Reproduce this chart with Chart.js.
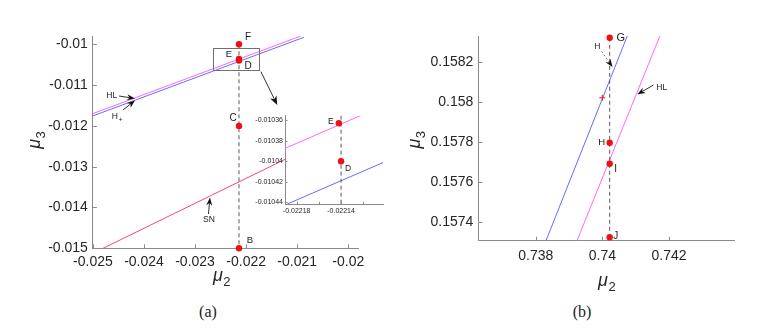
<!DOCTYPE html>
<html>
<head>
<meta charset="utf-8">
<script src="https://cdn.jsdelivr.net/npm/chart.js@4.4.1/dist/chart.umd.min.js"></script>
<style>
  html, body { margin: 0; padding: 0; background: #fff; }
  #fig { position: relative; width: 763px; height: 332px; overflow: hidden; background: #fff; }
  #fig canvas { position: absolute; }
  .cap { position: absolute; font: 16px "Liberation Serif", "DejaVu Serif", serif; color: #1a1a1a;
         transform: translate(-50%, -50%); white-space: nowrap; }
</style>
</head>
<body>
<div id="fig">
  <canvas id="left" width="390" height="300" style="left:0;top:0;width:390px;height:300px"></canvas>
  <canvas id="right" width="373" height="300" style="left:390px;top:0;width:373px;height:300px"></canvas>
  <canvas id="inset" width="150" height="120" style="left:240px;top:100px;width:150px;height:120px"></canvas>
  <div class="cap" style="left:208px;top:312px">(a)</div>
  <div class="cap" style="left:582px;top:312px">(b)</div>
</div>
<script>
// ---------- panel (a): bifurcation curves near mu2 = -0.0221 ----------
const aXTicks = [-0.025, -0.024, -0.023, -0.022, -0.021, -0.02];
const aXTickLabels = ['-0.025', '-0.024', '-0.023', '-0.022', '-0.021', '-0.02'];
const aYTicks = [-0.015, -0.014, -0.013, -0.012, -0.011, -0.01];
const aYTickLabels = ['-0.015', '-0.014', '-0.013', '-0.012', '-0.011', '-0.01'];

const aHLMu2 = [-0.025, -0.020934];
const aHLMu3 = [-0.011699, -0.0098];
const aHPlusMu2 = [-0.025, -0.02087];
const aHPlusMu3 = [-0.011756, -0.00983];
const aSNMu2 = [-0.024801, -0.02122];
const aSNMu3 = [-0.015, -0.012809];

const aPointNames = ['F', 'E', 'D', 'C', 'B'];
const aPointMu2 = [-0.02214, -0.02214, -0.02214, -0.02214, -0.02214];
const aPointMu3 = [-0.01, -0.010363, -0.0104, -0.012, -0.015];

// ---------- magnified window around E and D ----------
const zXTicks = [-0.02218, -0.02216, -0.02214, -0.02212];
const zXTickLabels = ['-0.02218', '', '-0.02214', ''];
const zYTicks = [-0.01044, -0.01042, -0.0104, -0.01038, -0.01036];
const zYTickLabels = ['-0.01044', '-0.01042', '-0.0104', '-0.01038', '-0.01036'];

const zHLMu2 = [-0.0221905, -0.0221214];
const zHLMu3 = [-0.0103875, -0.0103552];
const zHPlusMu2 = [-0.022189, -0.0221022];
const zHPlusMu3 = [-0.0104418, -0.0104013];
const zPointNames = ['E', 'D'];
const zPointMu2 = [-0.022142, -0.02214];
const zPointMu3 = [-0.0103632, -0.0104];

// ---------- panel (b): curves near mu2 = 0.74 ----------
const bXTicks = [0.738, 0.74, 0.742];
const bXTickLabels = ['0.738', '0.74', '0.742'];
const bYTicks = [0.1574, 0.1576, 0.1578, 0.158, 0.1582];
const bYTickLabels = ['0.1574', '0.1576', '0.1578', '0.158', '0.1582'];

const bHMu2 = [0.738309, 0.74075];
const bHMu3 = [0.157305, 0.15833];
const bHLMu2 = [0.739238, 0.74173];
const bHLMu3 = [0.157305, 0.15833];
const bPointNames = ['G', 'H', 'I', 'J'];
const bPointMu2 = [0.74022, 0.74022, 0.74022, 0.74022];
const bPointMu3 = [0.15832, 0.157795, 0.15769, 0.157322];
const bCrossMu2 = [0.74];
const bCrossMu3 = [0.15802];

// ---------- styling ----------
const AXIS = '#8a8a8a';
const TEXT = '#262626';
const PINK = '#ff66ff';
const BLUE = '#6a6aff';
const CRIMSON = '#ff4477';
const DOT = '#f01010';
const DASH = '#5a5a5a';
const SANS = '"Liberation Sans", Arial, Helvetica, sans-serif';

const pts = (xs, ys) => xs.map((x, i) => ({ x, y: ys[i] }));

function curve(xs, ys, color, dash) {
  return { data: pts(xs, ys), showLine: true, borderColor: color, borderWidth: 1,
           borderDash: dash || [], pointRadius: 0, pointHoverRadius: 0, fill: false };
}
function dots(xs, ys, r) {
  return { data: pts(xs, ys), showLine: false, pointRadius: r, pointHoverRadius: r,
           pointBackgroundColor: DOT, pointBorderWidth: 0, clip: false };
}

function axis(min, max, vals, labels, o) {
  return {
    type: 'linear', min, max,
    afterBuildTicks: s => { s.ticks = vals.map(v => ({ value: v })); },
    afterFit: s => { if (o.width != null) s.width = o.width; if (o.height != null) s.height = o.height; },
    grid: { display: false, drawTicks: false },
    border: { display: true, color: AXIS, width: 1 },
    ticks: { color: TEXT, font: { family: SANS, size: o.font }, padding: o.pad,
             autoSkip: false, maxRotation: 0, minRotation: 0,
             callback: (v, i) => labels[i] ?? '' }
  };
}

function arrow(ctx, x1, y1, x2, y2, o) {
  const L = o.len || 8, W = o.wid || 6;
  const a = Math.atan2(y2 - y1, x2 - x1), ux = Math.cos(a), uy = Math.sin(a);
  const nx = x2 - ux * L * 0.7, ny = y2 - uy * L * 0.7;
  const bx = x2 - ux * L, by = y2 - uy * L, px = -uy, py = ux;
  ctx.save();
  ctx.strokeStyle = o.color || '#333'; ctx.lineWidth = 1;
  ctx.setLineDash(o.dash || []);
  ctx.beginPath(); ctx.moveTo(x1, y1); ctx.lineTo(nx, ny); ctx.stroke();
  ctx.setLineDash([]);
  ctx.fillStyle = '#111';
  ctx.beginPath();
  ctx.moveTo(x2, y2);
  ctx.lineTo(bx + px * W / 2, by + py * W / 2);
  ctx.lineTo(nx, ny);
  ctx.lineTo(bx - px * W / 2, by - py * W / 2);
  ctx.closePath(); ctx.fill();
  ctx.restore();
}

// italic mu with a numeric subscript
function muLabel(ctx, sub, cx, cy, rot) {
  ctx.save();
  ctx.translate(cx, cy);
  if (rot) ctx.rotate(-Math.PI / 2);
  ctx.fillStyle = TEXT;
  ctx.textBaseline = 'alphabetic';
  ctx.font = 'italic 18px ' + SANS;
  const w1 = ctx.measureText('\u03bc').width;
  ctx.font = '13px ' + SANS;
  const w2 = ctx.measureText(sub).width;
  const x0 = -(w1 + w2) / 2;
  ctx.font = 'italic 18px ' + SANS;
  ctx.textAlign = 'left';
  ctx.fillText('\u03bc', x0, 3);
  ctx.font = '13px ' + SANS;
  ctx.fillText(sub, x0 + w1 + 0.5, 8);
  ctx.restore();
}

const decor = {
  id: 'decor',
  beforeDraw(chart, args, o) {
    if (!o.fillArea) return;
    const a = chart.chartArea, ctx = chart.ctx;
    ctx.save(); ctx.fillStyle = '#fff';
    ctx.fillRect(a.left, a.top, a.right - a.left, a.bottom - a.top);
    ctx.restore();
  },
  afterDraw(chart, args, o) {
    const ctx = chart.ctx, xs = chart.scales.x, ys = chart.scales.y, a = chart.chartArea;
    const X = v => xs.getPixelForValue(v), Y = v => ys.getPixelForValue(v);
    // inward tick marks
    ctx.save();
    ctx.strokeStyle = AXIS; ctx.lineWidth = 1;
    ctx.beginPath();
    xs.ticks.forEach(t => { const p = Math.round(X(t.value)) + 0.5; ctx.moveTo(p, a.bottom); ctx.lineTo(p, a.bottom - o.tick); });
    ys.ticks.forEach(t => { const p = Math.round(Y(t.value)) + 0.5; ctx.moveTo(a.left, p); ctx.lineTo(a.left + o.tick, p); });
    ctx.stroke();
    ctx.restore();
    // marked rectangle
    (o.rects || []).forEach(r => {
      ctx.save(); ctx.strokeStyle = '#707070'; ctx.lineWidth = 1;
      const x1 = X(r.x[0]), x2 = X(r.x[1]), y1 = Y(r.y[0]), y2 = Y(r.y[1]);
      ctx.strokeRect(Math.round(x1) + 0.5, Math.round(y1) + 0.5, Math.round(x2 - x1), Math.round(y2 - y1));
      ctx.restore();
    });
    // arrows
    (o.arrows || []).forEach(r => arrow(ctx, X(r.from[0]), Y(r.from[1]), X(r.to[0]), Y(r.to[1]), r));
    // text labels
    (o.labels || []).forEach(l => {
      ctx.save();
      ctx.fillStyle = '#1a1a1a';
      ctx.font = l.size + 'px ' + SANS;
      ctx.textAlign = 'center'; ctx.textBaseline = 'middle';
      const x = X(l.at[0]) + (l.dx || 0), y = Y(l.at[1]) + (l.dy || 0);
      if (l.sub) {
        const w = ctx.measureText(l.text).width;
        ctx.textAlign = 'left';
        ctx.fillText(l.text, x - w / 2 - 2, y);
        ctx.font = (l.size - 2) + 'px ' + SANS;
        ctx.fillText(l.sub, x + w / 2 - 1, y + 4);
      } else {
        ctx.fillText(l.text, x, y);
      }
      ctx.restore();
    });
    // axis titles
    if (o.xTitle) muLabel(ctx, o.xTitle.sub, (a.left + a.right) / 2 + o.xTitle.dx, a.bottom + o.xTitle.dy, false);
    if (o.yTitle) muLabel(ctx, o.yTitle.sub, a.left + o.yTitle.dx, (a.top + a.bottom) / 2 + o.yTitle.dy, true);
  }
};

const pointLabels = (names, xs, ys, offs, sizes) =>
  names.map((n, i) => ({ text: n, at: [xs[i], ys[i]], dx: offs[i][0], dy: offs[i][1], size: sizes[i] }));

function makeChart(id, datasets, scales, padding, decorOpts) {
  return new Chart(document.getElementById(id), {
    type: 'scatter',
    data: { datasets },
    options: {
      responsive: false, maintainAspectRatio: false, animation: false, devicePixelRatio: 1,
      events: [],
      layout: { padding },
      scales,
      plugins: { legend: { display: false }, tooltip: { enabled: false }, decor: decorOpts }
    },
    plugins: [decor]
  });
}

// panel (a)
makeChart('left',
  [
    dots(aPointMu2, aPointMu3, 3.2),
    curve([aPointMu2[0], aPointMu2[4]], [aPointMu3[0], aPointMu3[4]], DASH, [4, 3]),
    curve(aHLMu2, aHLMu3, PINK),
    curve(aHPlusMu2, aHPlusMu3, BLUE),
    curve(aSNMu2, aSNMu3, CRIMSON)
  ],
  {
    x: axis(-0.025, -0.01981, aXTicks, aXTickLabels, { font: 14, pad: 5, height: 51.7 }),
    y: axis(-0.015, -0.0098, aYTicks, aYTickLabels, { font: 14, pad: 5, width: 92.9 })
  },
  { top: 36.1, right: 32, left: 0, bottom: 0 },
  {
    tick: 4,
    rects: [{ x: [-0.022644, -0.021744], y: [-0.010099, -0.010648] }],
    arrows: [
      { from: [-0.024489, -0.011268], to: [-0.024176, -0.011329], color: '#333' },
      { from: [-0.024411, -0.011611], to: [-0.024176, -0.011378], color: '#333' },
      { from: [-0.022738, -0.01416], to: [-0.022708, -0.013756], color: '#333' },
      { from: [-0.02171, -0.010673], to: [-0.021391, -0.011489], color: '#333', len: 9, wid: 7 }
    ],
    labels: pointLabels(aPointNames, aPointMu2, aPointMu3,
      [[9, -7.5], [-10, -5], [9, 5.5], [-6, -7.5], [11, -8]], [10, 9.5, 10, 10, 9.5]).concat([
      { text: 'HL', at: [-0.024632, -0.011268], size: 8.5 },
      { text: 'H', sub: '+', at: [-0.024534, -0.011775], size: 8.5 },
      { text: 'SN', at: [-0.022728, -0.01429], size: 8.5 }
    ]),
    xTitle: { sub: '2', dx: -4, dy: 30 },
    yTitle: { sub: '3', dx: -56, dy: -2 }
  });

// panel (b)
makeChart('right',
  [
    dots(bPointMu2, bPointMu3, 3.2),
    { data: pts(bCrossMu2, bCrossMu3), showLine: false, pointStyle: 'cross', pointRadius: 3,
      pointBorderColor: DOT, pointBorderWidth: 1, clip: false },
    curve([bPointMu2[0], bPointMu2[3]], [bPointMu3[0], bPointMu3[3]], DASH, [4, 3]),
    curve(bHMu2, bHMu3, BLUE),
    curve(bHLMu2, bHLMu3, PINK)
  ],
  {
    x: axis(0.736276, 0.743952, bXTicks, bXTickLabels, { font: 14, pad: 7, height: 59.3 }),
    y: axis(0.157305, 0.158329, bYTicks, bYTickLabels, { font: 14, pad: 5, width: 88.3 })
  },
  { top: 36, right: 29, left: 0, bottom: 0 },
  {
    tick: 4,
    arrows: [
      { from: [0.739976, 0.158252], to: [0.740306, 0.158174], color: '#777', dash: [2, 2] },
      { from: [0.741537, 0.158084], to: [0.741051, 0.158037], color: '#333' }
    ],
    labels: pointLabels(bPointNames, bPointMu2, bPointMu3,
      [[11, 0], [-8, 0], [6, 6], [6, -1]], [11, 9.5, 10, 10]).concat([
      { text: 'H', at: [0.73985, 0.158276], size: 8.5 },
      { text: 'HL', at: [0.741783, 0.158073], size: 8.5 }
    ]),
    xTitle: { sub: '2', dx: 0.5, dy: 42.6 },
    yTitle: { sub: '3', dx: -61.6, dy: 1.6 }
  });

// magnified window (drawn over panel (a))
makeChart('inset',
  [
    dots(zPointMu2, zPointMu3, 3.2),
    curve([zPointMu2[1], zPointMu2[1]], [-0.0103558, -0.0104418], DASH, [4, 3]),
    curve(zHLMu2, zHLMu3, PINK),
    curve(zHPlusMu2, zHPlusMu3, BLUE)
  ],
  {
    x: axis(-0.0221905, -0.0221022, zXTicks, zXTickLabels, { font: 7, pad: 2.5, height: 15.7 }),
    y: axis(-0.0104418, -0.0103558, zYTicks, zYTickLabels, { font: 7, pad: 2, width: 45 })
  },
  { top: 15.7, right: 7, left: 0, bottom: 0 },
  {
    tick: 2.5,
    fillArea: true,
    labels: pointLabels(zPointNames, zPointMu2, zPointMu3, [[-8, -2], [7, 7]], [8.5, 8.5])
  });
</script>
</body>
</html>
